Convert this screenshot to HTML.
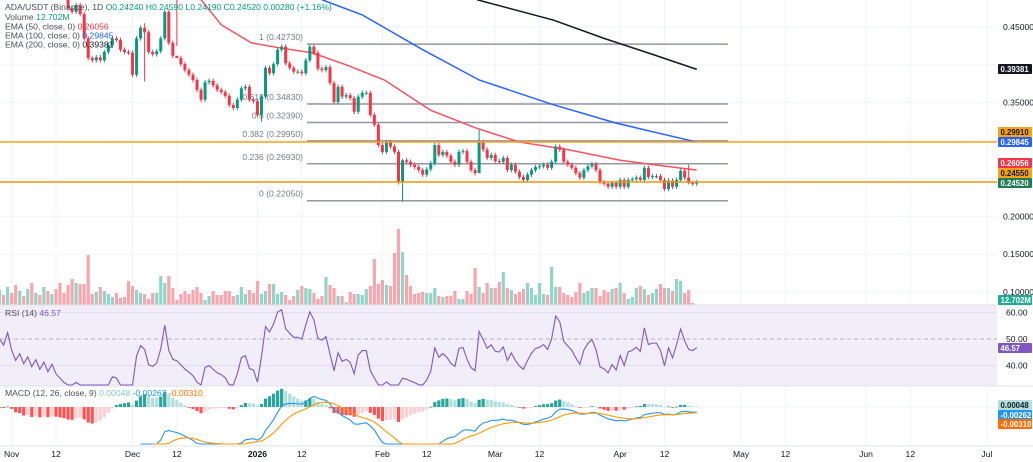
<!DOCTYPE html>
<html><head><meta charset="utf-8"><style>
html,body{margin:0;padding:0;background:#fff;overflow:hidden}
svg{display:block;font-family:"Liberation Sans",sans-serif}
</style></head><body>
<svg id="chart" width="1033" height="462" viewBox="0 0 1033 462">
<g id="grid"></g>
<rect x="0" y="305" width="997" height="81" fill="#f1edf9"/>
<g id="fib"></g>
<g id="vol"></g>
<g id="ema"></g>
<g id="candles"></g>
<line x1="0" y1="142" x2="997" y2="142" stroke="#f7a21b" stroke-width="1.5"/>
<line x1="0" y1="182" x2="997" y2="182" stroke="#e89a0c" stroke-width="1.5"/>
<g id="rsi"></g>
<g id="macd"></g>
<line x1="0" y1="305" x2="1033" y2="305" stroke="#e0e3eb"/>
<line x1="0" y1="386" x2="1033" y2="386" stroke="#e0e3eb"/>
<line x1="0" y1="446" x2="1033" y2="446" stroke="#e0e3eb"/>
<g id="axes"></g>
<g id="legend" font-size="8.6">
<text x="5" y="10" fill="#4a4e5a">ADA/USDT (Binance), 1D <tspan fill="#089981">O0.24240 H0.24590 L0.24190 C0.24520 0.00280 (+1.16%)</tspan></text>
<text x="5" y="20" fill="#4a4e5a">Volume <tspan fill="#089981">12.702M</tspan></text>
<text x="5" y="29.5" fill="#4a4e5a">EMA (50, close, 0) <tspan fill="#f23645">0.26056</tspan></text>
<text x="5" y="38.5" fill="#4a4e5a">EMA (100, close, 0) <tspan fill="#2962ff">0.29845</tspan></text>
<text x="5" y="47.5" fill="#4a4e5a">EMA (200, close, 0) <tspan fill="#131722">0.39381</tspan></text>
<text x="5" y="316" fill="#4a4e5a">RSI (14) <tspan fill="#7e57c2">46.57</tspan></text>
<text x="5" y="396" fill="#4a4e5a">MACD (12, 26, close, 9) <tspan fill="#80cbc4">0.00048</tspan> <tspan fill="#2196f3">-0.00262</tspan> <tspan fill="#ff6d00">-0.00310</tspan></text>
</g>
</svg>
<script>
const closes=[0.600,0.590,0.610,0.580,0.560,0.570,0.550,0.560,0.540,0.550,0.530,0.540,0.520,0.530,0.510,
0.500,0.490,0.475,0.470,0.479,0.467,0.435,0.409,0.406,0.410,0.406,0.417,0.426,0.435,0.433,0.420,0.417,0.416,0.387,0.435,0.449,0.443,0.417,0.414,0.418,0.435,0.470,0.429,0.412,0.409,0.401,0.393,0.387,0.380,0.367,0.354,0.377,0.379,0.373,0.367,0.364,0.359,0.347,0.343,0.354,0.369,0.371,0.354,0.352,0.334,0.358,0.396,0.389,0.401,0.420,0.424,0.402,0.396,0.391,0.391,0.389,0.406,0.424,0.416,0.395,0.393,0.397,0.376,0.351,0.371,0.358,0.360,0.356,0.338,0.358,0.363,0.363,0.334,0.321,0.294,0.285,0.298,0.292,0.285,0.245,0.274,0.272,0.268,0.265,0.261,0.255,0.262,0.270,0.294,0.281,0.285,0.280,0.272,0.268,0.285,0.286,0.272,0.261,0.257,0.298,0.288,0.277,0.281,0.273,0.272,0.277,0.261,0.268,0.259,0.252,0.248,0.255,0.261,0.265,0.266,0.268,0.264,0.272,0.292,0.288,0.272,0.268,0.264,0.257,0.251,0.261,0.266,0.269,0.261,0.245,0.243,0.239,0.244,0.239,0.248,0.239,0.248,0.249,0.251,0.248,0.264,0.252,0.253,0.253,0.248,0.236,0.247,0.239,0.248,0.260,0.251,0.244,0.243,0.245];
const firstOpen=0.595;
const wickIdx=[36,44,65,100,119,171];
const wickHigh=[0.455,0.486,0.360,0.276,0.314,0.268];
const wickLow=[0.378,0.425,0.325,0.219,0.257,0.242];
const volumes=[15,10,18,12,20,14,9,16,22,12,10,18,14,11,16,
22,12,20,26,22,21,21,50,11,13,18,14,11,8,12,7,8,24,19,15,12,11,6,12,12,29,22,29,17,5,11,14,11,15,18,12,5,9,14,10,10,14,14,9,10,18,11,15,12,24,11,14,21,21,11,13,10,5,9,15,19,17,16,12,6,9,28,20,17,9,9,3,13,11,11,10,16,19,46,21,25,20,19,52,76,53,30,19,11,12,13,12,12,17,9,8,9,9,14,6,6,14,11,37,18,12,22,17,17,23,33,17,15,11,13,16,22,17,10,22,11,10,38,18,18,12,10,8,13,22,12,14,17,17,9,15,13,16,17,22,12,6,8,17,19,16,10,12,16,21,17,17,14,26,24,12,15,2];
const ema50Idx=[50,55,62.5,70,77.5,86,95.5,107,118,129,141,154,162.5,173];
const ema50Val=[0.486,0.453,0.429,0.422,0.416,0.400,0.380,0.340,0.317,0.298,0.288,0.274,0.268,0.261];
const ema100Idx=[80,90,105,119,137,153,173];
const ema100Val=[0.486,0.466,0.420,0.380,0.348,0.323,0.298];
const ema200Idx=[118.5,137.5,150,162.5,173];
const ema200Val=[0.486,0.459,0.435,0.413,0.394];
const fibRatios=["1","0.618","0.5","0.382","0.236","0"];
const fibPrices=[0.4273,0.3483,0.3239,0.2995,0.2693,0.2205];
const priceTicks=[0.45,0.35,0.20,0.15,0.10];
const rsiTicks=[60,50,40];
const timeLabels=["Nov","12","Dec","12","2026","12","Feb","12","Mar","12","Apr","12","May","12","Jun","12","Jul"];
const timeIdx=[3,14,33,44,64,75,95,106,123,134,154,165,184,195,215,226,245];

const NS="http://www.w3.org/2000/svg";
const X=i=>60+(i-15)*4.03;
const Y=p=>27+(0.45-p)*757;
const RY=v=>339-(v-50)*2.65;
const MY=v=>407-v*1700;
function mk(tag,attrs,parent){const e=document.createElementNS(NS,tag);for(const k in attrs)e.setAttribute(k,attrs[k]);parent.appendChild(e);return e;}
const G=id=>document.getElementById(id);

const grid=G('grid');
timeIdx.forEach(d=>{const l=mk('line',{x1:X(d),x2:X(d),y1:0,y2:446,stroke:'#f0f3fa'},grid);

});
[0.45,0.40,0.35,0.30,0.25,0.20,0.15,0.10].forEach(p=>{const l=mk('line',{x1:0,x2:997,y1:Y(p),y2:Y(p),stroke:'#f0f3fa'},grid);

});

const fib=G('fib');
fibPrices.forEach((p,k)=>{
 const l=mk('line',{x1:307,x2:728,y1:Y(p),y2:Y(p),stroke:'#9598a1','stroke-width':1.5},fib);
 
 
 const t=mk('text',{x:303,y:Y(p)-4,'text-anchor':'end','font-size':8.6,fill:'#787b86'},fib);
 t.textContent=fibRatios[k]+" ("+p.toFixed(5)+")";
 
 
});

const opens=closes.map((c,i)=>i===0?firstOpen:closes[i-1]);
const cg=G('candles');
closes.forEach((c,i)=>{
 const o=opens[i];const up=c>=o;const col=up?'#089981':'#f23645';
 let hi=Math.max(o,c)+0.003,lo=Math.min(o,c)-0.003;
 const w=wickIdx.indexOf(i);if(w>=0){hi=wickHigh[w];lo=wickLow[w];}
 const x=X(i);
 const wl=mk('line',{x1:x,x2:x,y1:Y(hi),y2:Y(lo),stroke:col,'stroke-width':1},cg);
 
 
 const top=Y(Math.max(o,c)),bot=Y(Math.min(o,c));
 const r=mk('rect',{x:x-1.5,y:top,width:3,height:Math.max(1,bot-top),fill:col},cg);
 
 
});

const vg=G('vol');const vmax=Math.max(...volumes);
volumes.forEach((v,i)=>{if(i>=closes.length)return;
 const up=closes[i]>=opens[i];const h=v/vmax*76;
 const r=mk('rect',{x:X(i)-1.6,y:305-h,width:3.2,height:h,fill:up?'#92d4c8':'#f8a6ae'},vg);
 
 
});

function emaLine(idx,val,col,name){
 const p=mk('polyline',{points:idx.map((d,k)=>X(d)+','+Y(val[k])).join(' '),fill:'none',stroke:col,'stroke-width':1.5},G('ema'));
 
 
}
emaLine(ema50Idx,ema50Val,'#f7525f','ema-50-line');
emaLine(ema100Idx,ema100Val,'#2962ff','ema-100-line');
emaLine(ema200Idx,ema200Val,'#131722','ema-200-line');

const rg=G('rsi');
[60,40].forEach(v=>{const l=mk('line',{x1:0,x2:997,y1:RY(v),y2:RY(v),stroke:'#e4ddf2'},rg);

});
const mid=mk('line',{x1:0,x2:997,y1:RY(50),y2:RY(50),stroke:'#b2b5be','stroke-dasharray':'4,3'},rg);


let ag=0,al=0;const rsi=[];
closes.forEach((c,i)=>{const d=c-opens[i];const g=Math.max(d,0),l=Math.max(-d,0);
 if(i===0){ag=0.008;al=0.008;}else{ag=(ag*13+g)/14;al=(al*13+l)/14;}
 rsi.push(100-100/(1+ag/Math.max(al,1e-9)));});
const rp=mk('polyline',{points:rsi.map((v,i)=>X(i)+','+Math.min(385,Math.max(306,RY(v)))).join(' '),fill:'none',stroke:'#7e57c2','stroke-width':1.1},rg);



const mg=G('macd');
function emaArr(a,n){const k=2/(n+1);const r=[];a.forEach((v,i)=>r.push(i?v*k+r[i-1]*(1-k):v));return r;}
const e12=emaArr(closes,12),e26=emaArr(closes,26);
const macd=e12.map((v,i)=>v-e26[i]);const sig=emaArr(macd,9);const hist=macd.map((v,i)=>v-sig[i]);
const zl=mk('line',{x1:0,x2:997,y1:MY(0),y2:MY(0),stroke:'#f0f3fa'},mg);


hist.forEach((h,i)=>{const prev=i?hist[i-1]:0;
 const col=h>=0?(h>=prev?'#26a69a':'#b2dfdb'):(h<prev?'#ff5252':'#ffcdd2');
 const y1=Math.max(388,MY(Math.max(h,0))),y2=Math.min(444,MY(Math.min(h,0)));
 const r=mk('rect',{x:X(i)-1.6,y:y1,width:3.2,height:Math.max(0.8,y2-y1),fill:col},mg);
 
 });
const start=35;
const ml=mk('polyline',{points:macd.slice(start).map((v,k)=>X(k+start)+','+Math.min(444,MY(v))).join(' '),fill:'none',stroke:'#2196f3','stroke-width':1.1},mg);


const sl=mk('polyline',{points:sig.slice(start+3).map((v,k)=>X(k+start+3)+','+Math.min(444,MY(v))).join(' '),fill:'none',stroke:'#ff9800','stroke-width':1.1},mg);



const ax=G('axes');
priceTicks.forEach(p=>{const t=mk('text',{x:1003,y:Y(p)+3,'font-size':8.6,fill:'#131722'},ax);t.textContent=p.toFixed(5);

});
rsiTicks.forEach(v=>{const t=mk('text',{x:1006,y:RY(v)+3,'font-size':8.6,fill:'#131722'},ax);t.textContent=v.toFixed(2);

});
timeLabels.forEach((s,k)=>{const t=mk('text',{x:X(timeIdx[k]),y:457,'text-anchor':'middle','font-size':8.6,fill:'#131722','font-weight':s==='2026'?'bold':'normal'},ax);t.textContent=s;

});
const badges=[["0.39381",69,"#131722","#fff"],["0.29910",132,"#f7a21b","#131722"],["0.29845",142,"#2962ff","#fff"],["0.26056",163,"#f23645","#fff"],["0.24550",173,"#f7a21b","#131722"],["0.24520",183,"#1e7d55","#fff"],["12.702M",300,"#22ab94","#fff"],["46.57",348,"#7e57c2","#fff"],["0.00048",405,"#b2dfdb","#131722"],["-0.00262",415,"#2196f3","#fff"],["-0.00310",424,"#ff6d00","#fff"]];
badges.forEach(b=>{
 const r=mk('rect',{x:998,y:b[1]-5,width:34,height:10,rx:1,fill:b[2]},ax);
 
 
 const t=mk('text',{x:1000.5,y:b[1]+3,'font-size':7.8,'font-weight':'bold',fill:b[3]},ax);t.textContent=b[0];
 
 
});
</script>
</body></html>
